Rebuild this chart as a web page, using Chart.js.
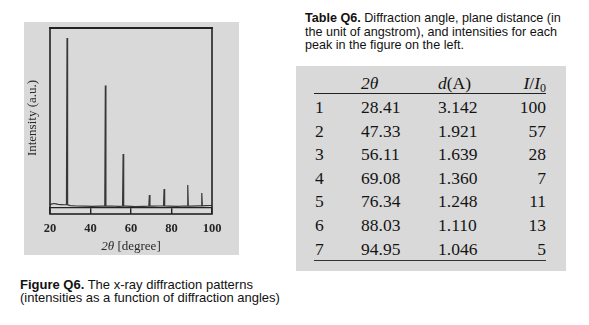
<!DOCTYPE html>
<html>
<head>
<meta charset="utf-8">
<script src="https://cdn.jsdelivr.net/npm/chart.js@4"></script>
<style>
  html, body { margin:0; padding:0; background:#fff; }
  body { width:589px; height:325px; position:relative; overflow:hidden; font-family:"Liberation Sans", Arial, sans-serif; color:#111; }
  #plotBox { position:absolute; left:24px; top:22px; width:215px; height:233px; background:#d9d9d9; }
  #plotBox canvas { position:absolute; left:0; top:0; }
  .cap { position:absolute; white-space:nowrap; }
  .cap b { font-weight:bold; }
  #tableCap { left:305px; top:12px; font-size:12.6px; line-height:13.6px; }
  #figCap { left:20px; top:279px; font-size:13px; line-height:12.5px; }
  #tableBox { position:absolute; left:296px; top:66px; width:270px; height:205px; background:#d9d9d9; }
  #peaks { position:absolute; left:18px; top:7px; border-collapse:collapse; font-family:"Liberation Serif", "Times New Roman", serif; font-size:17.5px; color:#141414; }
  #peaks td, #peaks th { padding:0; font-weight:normal; text-align:left; vertical-align:top; white-space:nowrap; line-height:20px; }
  #peaks td { height:20.6px; padding-top:3px; }
  #peaks th { height:19px; padding-top:0; border-bottom:1.6px solid #222; }
  #peaks tbody tr:last-child td { border-bottom:1.6px solid #333; height:21.5px; }
  #peaks .c1 { width:46px; padding-left:1px; }
  #peaks .c2 { width:77px; }
  #peaks .c3 { width:56px; }
  #peaks .c4 { width:52px; text-align:right; }
  #peaks i { font-style:italic; }
  #peaks sub { font-size:12px; vertical-align:-3px; line-height:0; }
</style>
</head>
<body>

<div id="plotBox"><canvas id="xrd" width="215" height="233"></canvas></div>

<div id="tableCap" class="cap"><b>Table Q6.</b> Diffraction angle, plane distance (in<br>the unit of angstrom), and intensities for each<br>peak in the figure on the left.</div>

<div id="tableBox">
  <table id="peaks">
    <thead><tr><th class="c1"></th><th class="c2"><i>2θ</i></th><th class="c3"><i>d</i>(A)</th><th class="c4"><i>I</i>/<i>I</i><sub>0</sub></th></tr></thead>
    <tbody id="peakRows"></tbody>
  </table>
</div>

<div id="figCap" class="cap"><b>Figure Q6.</b> The x-ray diffraction patterns<br>(intensities as a function of diffraction angles)</div>

<script>
// peak list (2theta in degrees, d-spacing in angstrom, relative intensity)
const peakAngles = [28.41, 47.33, 56.11, 69.08, 76.34, 88.03, 94.95];
const planeD = ["3.142", "1.921", "1.639", "1.360", "1.248", "1.110", "1.046"];
const relIntensity = [100, 57, 28, 7, 11, 13, 5];

// measured peak heights in the pattern (a.u.)
const peakHeights = [94.5, 68, 30, 7.2, 10.6, 12.8, 8.3];

// background trace between peaks (a.u.)
const bgAngles = [20, 21, 22, 23, 24, 25.5, 27, 30, 33, 37, 41, 45, 50, 54, 58, 62, 66, 71, 74, 79, 83, 86, 90, 93, 97, 100];
const bgLevels = [1.9, 2.3, 2.5, 2.3, 2.0, 1.9, 1.8, 1.3, 1.1, 1.0, 0.9, 1.0, 1.1, 0.9, 1.0, 0.8, 0.9, 1.0, 1.1, 1.0, 0.9, 1.1, 1.0, 1.2, 1.3, 1.4];

const xTicks = [20, 40, 60, 80, 100];

// table rows
const tb = document.getElementById("peakRows");
peakAngles.forEach((a, i) => {
  const tr = document.createElement("tr");
  tr.innerHTML = `<td class="c1">${i+1}</td><td class="c2">${a.toFixed(2)}</td><td class="c3">${planeD[i]}</td><td class="c4">${relIntensity[i]}</td>`;
  tb.appendChild(tr);
});

// merge background and peaks into one trace
const halfWidth = 0.28;
const nearestBg = (x) => {
  let best = 0;
  bgAngles.forEach((b, i) => { if (Math.abs(b - x) < Math.abs(bgAngles[best] - x)) best = i; });
  return bgLevels[best];
};
let trace = bgAngles.map((x, i) => ({ x, y: bgLevels[i] }));
peakAngles.forEach((a, i) => {
  const base = nearestBg(a);
  trace.push({ x: a - halfWidth, y: base }, { x: a, y: peakHeights[i] }, { x: a + halfWidth, y: base });
});
trace.sort((p, q) => p.x - q.x);

const ink = "#222";

// box around plot with the ruler strip under the axis line
const framePlugin = {
  id: "frame",
  afterDraw(chart){
    const { ctx, chartArea: c } = chart;
    ctx.save();
    ctx.strokeStyle = ink;
    ctx.lineWidth = 1.6;
    ctx.strokeRect(c.left, c.top, c.right - c.left, c.bottom + 6 - c.top);
    ctx.lineWidth = 2.2;
    ctx.beginPath(); ctx.moveTo(c.left - 1, c.top); ctx.lineTo(c.right + 1, c.top); ctx.stroke();

    // x title: italic 2θ + [degree]
    const cx = (c.left + c.right) / 2, cy = 225;
    ctx.fillStyle = "#2a2a2a";
    ctx.textBaseline = "middle";
    const f1 = "italic 13px 'Liberation Serif'", f2 = "13px 'Liberation Serif'";
    ctx.font = f1; const w1 = ctx.measureText("2θ").width;
    ctx.font = f2; const w2 = ctx.measureText(" [degree]").width;
    let x0 = cx - (w1 + w2) / 2;
    ctx.font = f1; ctx.fillText("2θ", x0, cy);
    ctx.font = f2; ctx.fillText(" [degree]", x0 + w1, cy);
    ctx.restore();
  }
};

new Chart(document.getElementById("xrd"), {
  type: "line",
  data: {
    datasets: [{
      data: trace,
      borderColor: "#383838",
      borderWidth: 1.2,
      pointRadius: 0,
      tension: 0,
      fill: false
    }]
  },
  options: {
    responsive: false,
    animation: false,
    devicePixelRatio: 1,
    layout: { padding: { top: 6, right: 27, left: 0, bottom: 0 } },
    plugins: { legend: { display: false }, tooltip: { enabled: false } },
    scales: {
      x: {
        type: "linear",
        min: 20, max: 100,
        afterBuildTicks: (s) => { s.ticks = xTicks.map(v => ({ value: v })); },
        afterFit: (s) => { s.height = 47; },
        grid: { drawOnChartArea: false, drawTicks: true, tickLength: 6, color: ink, lineWidth: 1.4 },
        border: { display: true, color: ink, width: 1.3 },
        ticks: { color: "#262626", padding: 7, maxRotation: 0, font: { family: "Liberation Serif", size: 12.5, weight: "bold" } }
      },
      y: {
        min: 0, max: 100,
        afterFit: (s) => { s.width = 26; },
        grid: { display: false },
        border: { display: false },
        ticks: { display: false },
        title: { display: true, text: "Intensity (a.u.)", color: "#2a2a2a", padding: { top: 1, bottom: 0 }, font: { family: "Liberation Serif", size: 13 } }
      }
    }
  },
  plugins: [framePlugin]
});
</script>
</body>
</html>
